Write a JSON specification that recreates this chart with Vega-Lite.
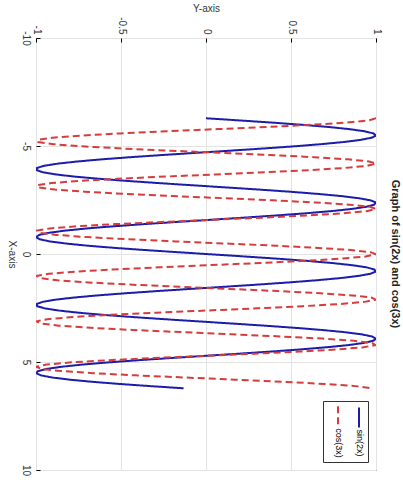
{
  "$schema": "https://vega.github.io/schema/vega-lite/v6.json",
  "width": 340,
  "height": 432,
  "autosize": "none",
  "padding": {"left": 36, "top": 38, "right": 27, "bottom": 14},
  "title": {
    "text": "Graph of sin(2x) and cos(3x)",
    "orient": "right",
    "angle": 90,
    "fontSize": 11,
    "fontWeight": "bold",
    "color": "#222",
    "offset": 9
  },
  "data": {
    "values": [
      {"t": -6.2832, "s": 0, "c": 1},
      {"t": -6.1832, "s": 0.199, "c": 0.955},
      {"t": -6.0832, "s": 0.389, "c": 0.825},
      {"t": -5.9832, "s": 0.565, "c": 0.622},
      {"t": -5.8832, "s": 0.717, "c": 0.362},
      {"t": -5.7832, "s": 0.841, "c": 0.071},
      {"t": -5.6832, "s": 0.932, "c": -0.227},
      {"t": -5.5832, "s": 0.985, "c": -0.505},
      {"t": -5.4832, "s": 1.0, "c": -0.737},
      {"t": -5.3832, "s": 0.974, "c": -0.904},
      {"t": -5.2832, "s": 0.909, "c": -0.99},
      {"t": -5.1832, "s": 0.808, "c": -0.987},
      {"t": -5.0832, "s": 0.675, "c": -0.897},
      {"t": -4.9832, "s": 0.516, "c": -0.726},
      {"t": -4.8832, "s": 0.335, "c": -0.49},
      {"t": -4.7832, "s": 0.141, "c": -0.211},
      {"t": -4.6832, "s": -0.058, "c": 0.087},
      {"t": -4.5832, "s": -0.256, "c": 0.378},
      {"t": -4.4832, "s": -0.443, "c": 0.635},
      {"t": -4.3832, "s": -0.612, "c": 0.835},
      {"t": -4.2832, "s": -0.757, "c": 0.96},
      {"t": -4.1832, "s": -0.872, "c": 1.0},
      {"t": -4.0832, "s": -0.952, "c": 0.95},
      {"t": -3.9832, "s": -0.994, "c": 0.816},
      {"t": -3.8832, "s": -0.996, "c": 0.608},
      {"t": -3.7832, "s": -0.959, "c": 0.347},
      {"t": -3.6832, "s": -0.883, "c": 0.054},
      {"t": -3.5832, "s": -0.773, "c": -0.244},
      {"t": -3.4832, "s": -0.631, "c": -0.519},
      {"t": -3.3832, "s": -0.465, "c": -0.749},
      {"t": -3.2832, "s": -0.279, "c": -0.911},
      {"t": -3.1832, "s": -0.083, "c": -0.992},
      {"t": -3.0832, "s": 0.117, "c": -0.985},
      {"t": -2.9832, "s": 0.312, "c": -0.889},
      {"t": -2.8832, "s": 0.494, "c": -0.714},
      {"t": -2.7832, "s": 0.657, "c": -0.476},
      {"t": -2.6832, "s": 0.794, "c": -0.194},
      {"t": -2.5832, "s": 0.899, "c": 0.104},
      {"t": -2.4832, "s": 0.968, "c": 0.394},
      {"t": -2.3832, "s": 0.999, "c": 0.648},
      {"t": -2.2832, "s": 0.989, "c": 0.844},
      {"t": -2.1832, "s": 0.941, "c": 0.965},
      {"t": -2.0832, "s": 0.855, "c": 0.999},
      {"t": -1.9832, "s": 0.735, "c": 0.945},
      {"t": -1.8832, "s": 0.585, "c": 0.806},
      {"t": -1.7832, "s": 0.412, "c": 0.595},
      {"t": -1.6832, "s": 0.223, "c": 0.331},
      {"t": -1.5832, "s": 0.025, "c": 0.037},
      {"t": -1.4832, "s": -0.174, "c": -0.26},
      {"t": -1.3832, "s": -0.366, "c": -0.534},
      {"t": -1.2832, "s": -0.544, "c": -0.76},
      {"t": -1.1832, "s": -0.7, "c": -0.918},
      {"t": -1.0832, "s": -0.828, "c": -0.994},
      {"t": -0.9832, "s": -0.923, "c": -0.982},
      {"t": -0.8832, "s": -0.981, "c": -0.881},
      {"t": -0.7832, "s": -1.0, "c": -0.702},
      {"t": -0.6832, "s": -0.979, "c": -0.461},
      {"t": -0.5832, "s": -0.919, "c": -0.178},
      {"t": -0.4832, "s": -0.823, "c": 0.121},
      {"t": -0.3832, "s": -0.694, "c": 0.409},
      {"t": -0.2832, "s": -0.537, "c": 0.66},
      {"t": -0.1832, "s": -0.358, "c": 0.853},
      {"t": -0.0832, "s": -0.166, "c": 0.969},
      {"t": 0.0168, "s": 0.034, "c": 0.999},
      {"t": 0.1168, "s": 0.232, "c": 0.939},
      {"t": 0.2168, "s": 0.42, "c": 0.796},
      {"t": 0.3168, "s": 0.592, "c": 0.581},
      {"t": 0.4168, "s": 0.74, "c": 0.315},
      {"t": 0.5168, "s": 0.859, "c": 0.02},
      {"t": 0.6168, "s": 0.944, "c": -0.276},
      {"t": 0.7168, "s": 0.991, "c": -0.548},
      {"t": 0.8168, "s": 0.998, "c": -0.771},
      {"t": 0.9168, "s": 0.966, "c": -0.924},
      {"t": 1.0168, "s": 0.895, "c": -0.996},
      {"t": 1.1168, "s": 0.788, "c": -0.978},
      {"t": 1.2168, "s": 0.65, "c": -0.873},
      {"t": 1.3168, "s": 0.486, "c": -0.69},
      {"t": 1.4168, "s": 0.303, "c": -0.446},
      {"t": 1.5168, "s": 0.108, "c": -0.161},
      {"t": 1.6168, "s": -0.092, "c": 0.138},
      {"t": 1.7168, "s": -0.288, "c": 0.424},
      {"t": 1.8168, "s": -0.472, "c": 0.673},
      {"t": 1.9168, "s": -0.638, "c": 0.862},
      {"t": 2.0168, "s": -0.778, "c": 0.973},
      {"t": 2.1168, "s": -0.888, "c": 0.998},
      {"t": 2.2168, "s": -0.961, "c": 0.933},
      {"t": 2.3168, "s": -0.997, "c": 0.785},
      {"t": 2.4168, "s": -0.993, "c": 0.568},
      {"t": 2.5168, "s": -0.949, "c": 0.299},
      {"t": 2.6168, "s": -0.867, "c": 0.004},
      {"t": 2.7168, "s": -0.751, "c": -0.292},
      {"t": 2.8168, "s": -0.605, "c": -0.562},
      {"t": 2.9168, "s": -0.435, "c": -0.781},
      {"t": 3.0168, "s": -0.247, "c": -0.931},
      {"t": 3.1168, "s": -0.05, "c": -0.997},
      {"t": 3.2168, "s": 0.15, "c": -0.975},
      {"t": 3.3168, "s": 0.343, "c": -0.865},
      {"t": 3.4168, "s": 0.523, "c": -0.678},
      {"t": 3.5168, "s": 0.682, "c": -0.431},
      {"t": 3.6168, "s": 0.814, "c": -0.145},
      {"t": 3.7168, "s": 0.913, "c": 0.154},
      {"t": 3.8168, "s": 0.976, "c": 0.439},
      {"t": 3.9168, "s": 1.0, "c": 0.685},
      {"t": 4.0168, "s": 0.984, "c": 0.87},
      {"t": 4.1168, "s": 0.929, "c": 0.977},
      {"t": 4.2168, "s": 0.837, "c": 0.996},
      {"t": 4.3168, "s": 0.711, "c": 0.927},
      {"t": 4.4168, "s": 0.557, "c": 0.775},
      {"t": 4.5168, "s": 0.381, "c": 0.554},
      {"t": 4.6168, "s": 0.19, "c": 0.283},
      {"t": 4.7168, "s": -0.009, "c": -0.013},
      {"t": 4.8168, "s": -0.207, "c": -0.308},
      {"t": 4.9168, "s": -0.398, "c": -0.576},
      {"t": 5.0168, "s": -0.572, "c": -0.792},
      {"t": 5.1168, "s": -0.724, "c": -0.937},
      {"t": 5.2168, "s": -0.846, "c": -0.998},
      {"t": 5.3168, "s": -0.935, "c": -0.971},
      {"t": 5.4168, "s": -0.987, "c": -0.856},
      {"t": 5.5168, "s": -0.999, "c": -0.666},
      {"t": 5.6168, "s": -0.972, "c": -0.415},
      {"t": 5.7168, "s": -0.906, "c": -0.128},
      {"t": 5.8168, "s": -0.803, "c": 0.171},
      {"t": 5.9168, "s": -0.669, "c": 0.454},
      {"t": 6.0168, "s": -0.508, "c": 0.697},
      {"t": 6.1168, "s": -0.327, "c": 0.878},
      {"t": 6.2168, "s": -0.132, "c": 0.98}
    ]
  },
  "transform": [{"fold": ["s", "c"], "as": ["series", "val"]}],
  "mark": {"type": "line", "strokeWidth": 2, "clip": true},
  "encoding": {
    "y": {
      "field": "t",
      "type": "quantitative",
      "scale": {"domain": [-10, 10], "reverse": true, "nice": false},
      "axis": {
        "orient": "left",
        "values": [-10, -5, 0, 5, 10],
        "labelExpr": "'' + datum.value",
        "title": "X-axis",
        "titleAngle": 90,
        "titleBaseline": "top",
        "titlePadding": 4,
        "labelAngle": 90,
        "labelAlign": "center",
        "labelBaseline": "top",
        "labelPadding": 10
      }
    },
    "x": {
      "field": "val",
      "type": "quantitative",
      "scale": {"domain": [-1, 1], "nice": false},
      "axis": {
        "orient": "top",
        "values": [-1, -0.5, 0, 0.5, 1],
        "labelExpr": "'' + datum.value",
        "title": "Y-axis",
        "titleAngle": 0,
        "titlePadding": 3,
        "labelAngle": 90,
        "labelAlign": "right",
        "labelBaseline": "middle",
        "labelPadding": 8
      }
    },
    "order": {"field": "t", "type": "quantitative"},
    "color": {
      "field": "series",
      "type": "nominal",
      "scale": {"domain": ["s", "c"], "range": ["#1c1caa", "#d63c3c"]},
      "legend": {
        "orient": "bottom-right",
        "offset": 8,
        "direction": "horizontal",
        "title": null,
        "values": ["c", "s"],
        "labelExpr": "datum.value == 's' ? 'sin(2x)' : 'cos(3x)'",
        "symbolType": "M0,-1L0,1",
        "symbolSize": 400,
        "symbolStrokeWidth": 2,
        "labelFontSize": 9,
        "labelOffset": -10,
        "columnPadding": 4,
        "padding": 4,
        "strokeColor": "#333",
        "fillColor": "#fff",
        "encoding": {
          "labels": {
            "angle": {"value": 90},
            "align": {"value": "left"},
            "baseline": {"value": "middle"},
            "dx": {"value": 12}
          }
        }
      }
    },
    "strokeDash": {
      "field": "series",
      "type": "nominal",
      "scale": {"domain": ["s", "c"], "range": [[1, 0], [7, 4]]},
      "legend": {
        "orient": "bottom-right",
        "offset": 8,
        "direction": "horizontal",
        "title": null,
        "values": ["c", "s"],
        "labelExpr": "datum.value == 's' ? 'sin(2x)' : 'cos(3x)'",
        "symbolType": "M0,-1L0,1",
        "symbolSize": 400,
        "symbolStrokeWidth": 2,
        "labelFontSize": 9,
        "labelOffset": -10,
        "columnPadding": 4,
        "padding": 4,
        "strokeColor": "#333",
        "fillColor": "#fff",
        "encoding": {
          "labels": {
            "angle": {"value": 90},
            "align": {"value": "left"},
            "baseline": {"value": "middle"},
            "dx": {"value": 12}
          }
        }
      }
    }
  },
  "config": {
    "font": "Liberation Sans",
    "view": {"stroke": "#000", "strokeWidth": 1},
    "axis": {
      "domain": false,
      "grid": true,
      "gridColor": "#e3e3e3",
      "tickSize": -4,
      "tickColor": "#000",
      "labelFontSize": 10,
      "labelColor": "#333",
      "titleFontSize": 10,
      "titleFontWeight": "normal",
      "titleColor": "#333"
    }
  }
}
